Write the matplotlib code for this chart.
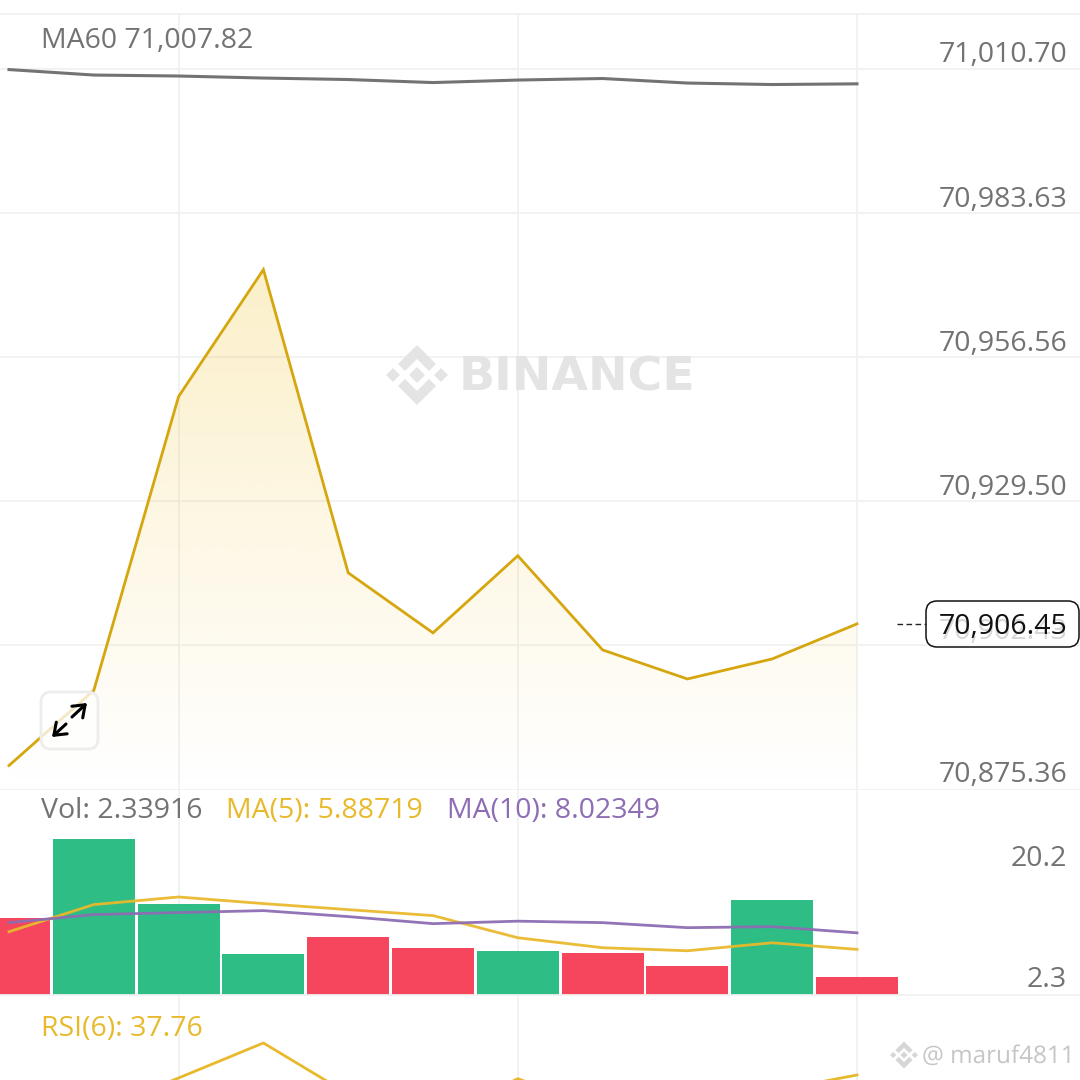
import numpy as np
import matplotlib
matplotlib.use('Agg')
import matplotlib.pyplot as plt
from matplotlib.patches import FancyBboxPatch, Polygon
from matplotlib.transforms import Affine2D
import matplotlib.patheffects as pe

plt.rcParams['font.family'] = ['Open Sans', 'DejaVu Sans']

# candle index along the bottom, all panels share it
idx = list(range(11))

close_price = [70879.86, 70893.96, 70949.13, 70972.95, 70916.04, 70904.76,
               70919.24, 70901.56, 70896.11, 70899.87, 70906.45]
ma60 = [71010.50, 71009.47, 71009.29, 71008.91, 71008.63, 71008.06,
        71008.53, 71008.82, 71007.97, 71007.69, 71007.82]
price_ticks = [71010.70, 70983.63, 70956.56, 70929.50, 70902.43, 70875.36]
price_labels = ['71,010.70', '70,983.63', '70,956.56', '70,929.50', '70,902.43', '70,875.36']

volume = [9.99, 20.2, 11.80, 5.32, 7.52, 6.10, 5.71, 5.45, 3.76, 12.32, 2.339]
vol_up = [False, True, True, True, False, False, True, False, False, True, False]
vol_ma5 = [8.17, 11.67, 12.65, 11.80, 11.02, 10.25, 7.39, 6.10, 5.71, 6.74, 5.887]
vol_ma10 = [9.34, 10.38, 10.64, 10.89, 10.12, 9.21, 9.53, 9.34, 8.69, 8.82, 8.023]

rsi6 = [3.0, 12.0, 35.7, 60.0, 24.6, 6.5, 35.2, 13.5, 6.5, 26.6, 37.76]

GRID = '#F1F1F1'
GRAY = '#737373'
GOLD = '#D6A60F'
YELLOW = '#E9B92C'
PURPLE = '#8D6DB3'
GREEN = '#2EBD85'
RED = '#F6465D'
FS = 20.5

fig = plt.figure(figsize=(10.8, 10.8), dpi=100, facecolor='white')
# pixel coords measured from top left of the image
pix = Affine2D().scale(1 / 1080, -1 / 1080).translate(0, 1) + fig.transFigure


def panel(top, bottom):
    ax = fig.add_axes([0, 1 - bottom / 1080, 1, (bottom - top) / 1080])
    ax.set_xlim(-9 / 84.8, 1071 / 84.8)
    for s in ax.spines.values():
        s.set_visible(False)
    ax.set_xticks([2, 6, 10])
    ax.tick_params(length=0, labelbottom=False, labelleft=False)
    ax.grid(True, color=GRID, lw=1.3)
    ax.set_axisbelow(True)
    ax.patch.set_alpha(0)
    return ax


def right_label(ax, value, text, offset, color=GRAY):
    ax.annotate(text, xy=(1067 / 1080, value), xycoords=ax.get_yaxis_transform(),
                xytext=(0, offset), textcoords='offset pixels', ha='right', va='center',
                fontsize=FS, color=color, zorder=2)


def logo(cx, cy, scale, color, **kw):
    # exchange mark, four shapes plus two side diamonds
    shapes = [
        [(0, -30), (19, -11), (12, -4), (0, -16), (-12, -4), (-19, -11)],
        [(0, 30), (19, 11), (12, 4), (0, 16), (-12, 4), (-19, 11)],
        [(0, -8), (8, 0), (0, 8), (-8, 0)],
        [(-24, -7), (-17, 0), (-24, 7), (-31, 0)],
        [(24, -7), (31, 0), (24, 7), (17, 0)],
    ]
    for pts in shapes:
        xy = [(cx + scale * a, cy + scale * b) for a, b in pts]
        fig.add_artist(Polygon(xy, closed=True, transform=pix, facecolor=color, edgecolor='none', **kw))


# price panel
ax1 = panel(14, 790)
y_per_px = (71010.70 - 70875.36) / 721
y_low = 70875.36 - 0.5 * y_per_px
y_high = y_low + 776 * y_per_px
ax1.set_ylim(y_low, y_high)
ax1.set_yticks(price_ticks)
ax1.spines['top'].set_visible(True)
ax1.spines['top'].set_color(GRID)
ax1.spines['top'].set_linewidth(1.3)

top_val = max(close_price)
grad = np.zeros((256, 2, 4))
grad[..., :3] = matplotlib.colors.to_rgb('#F0B90B')
grad[..., 3] = np.linspace(0.22, 0.0, 256)[:, None]
im = ax1.imshow(grad, extent=(0, 10, 70875.36, top_val), aspect='auto', origin='upper', zorder=1)
clip = ax1.fill_between(idx, close_price, 70875.36, color='none')
im.set_clip_path(clip.get_paths()[0], transform=ax1.transData)
ax1.set_xlim(-9 / 84.8, 1071 / 84.8)
ax1.set_ylim(y_low, y_high)

ax1.plot(idx, close_price, color=GOLD, lw=2.0, zorder=3, solid_joinstyle='miter')
ax1.plot(idx, ma60, color=GRAY, lw=2.2, zorder=3)

for v, t in zip(price_ticks, price_labels):
    right_label(ax1, v, t, 15 if v == price_ticks[-1] else 13)

fig.text(41 / 1080, 1 - 41 / 1080, 'MA60 71,007.82', fontsize=FS, color=GRAY, va='center')

# volume panel
ax2 = panel(790, 995)
vol_per_px = 20.2 / 156.5
ax2.set_ylim(0, 205 * vol_per_px)
ax2.set_yticks([])
ax2.spines['bottom'].set_visible(True)
ax2.spines['bottom'].set_color(GRID)
ax2.spines['bottom'].set_linewidth(1.3)
ax2.bar(idx, volume, width=0.967, color=[GREEN if u else RED for u in vol_up], zorder=2)
ax2.plot(idx, vol_ma5, color=YELLOW, lw=2.0, zorder=3, alpha=0.95)
ax2.plot(idx, vol_ma10, color=PURPLE, lw=2.0, zorder=3, alpha=0.95)
right_label(ax2, 20.2, '20.2', -20)
right_label(ax2, 2.3, '2.3', -3)

fig.text(41 / 1080, 1 - 811 / 1080, 'Vol: 2.33916', fontsize=FS, color=GRAY, va='center')
fig.text(226 / 1080, 1 - 811 / 1080, 'MA(5): 5.88719', fontsize=FS, color=YELLOW, va='center')
fig.text(447 / 1080, 1 - 811 / 1080, 'MA(10): 8.02349', fontsize=FS, color=PURPLE, va='center')

# rsi panel, only the top of it is in the crop
ax3 = panel(995, 1080)
ax3.set_ylim(37.76 - 5 / 1.44, 37.76 + 80 / 1.44)
ax3.set_yticks([])
ax3.plot(idx, rsi6, color=YELLOW, lw=2.0, zorder=3)
fig.text(41 / 1080, 1 - 1029 / 1080, 'RSI(6): 37.76', fontsize=FS, color=YELLOW, va='center')

# big watermark
logo(417, 375, 1.0, '#E4E4E4')
fig.text(459 / 1080, 1 - 378 / 1080, 'BINANCE', fontsize=34, fontweight='bold', color='#E4E4E4',
         va='center', ha='left', family='DejaVu Sans')

# last price tag
fig.add_artist(plt.Line2D([897, 926], [624, 624], transform=pix, color='#222222', lw=1, ls=(0, (4, 2.5))))
fig.add_artist(FancyBboxPatch((926, 601), 153, 46, boxstyle='round,pad=0,rounding_size=11', transform=pix,
                              facecolor=(1, 1, 1, 0.72), edgecolor='#111111', lw=1.1))
fig.text(1003 / 1080, 1 - 627 / 1080, '70,906.45', fontsize=FS, color='#111111', va='center', ha='center')

# expand button
fig.add_artist(FancyBboxPatch((41, 692), 57, 57, boxstyle='round,pad=0,rounding_size=10', transform=pix,
                              facecolor=(1, 1, 1, 0.75), edgecolor='#EDEDED', lw=2))
for a, b in [((72, 717), (87, 703)), ((66, 724), (52, 737))]:
    fig.add_artist(matplotlib.patches.FancyArrowPatch(a, b, transform=pix, arrowstyle='->,head_length=3.5,head_width=2.6',
                                                      mutation_scale=2.2, color='black', lw=2.2, shrinkA=0, shrinkB=0))

# small user watermark
logo(904, 1055, 0.45, '#D6D6D6', path_effects=[pe.withStroke(linewidth=2, foreground='white')])
fig.text(922 / 1080, 1 - 1057 / 1080, '@ maruf4811', fontsize=17.5, color='#C6C6C6', va='center',
         path_effects=[pe.withStroke(linewidth=2.5, foreground='white')])

fig.savefig('out.png', dpi=100)
